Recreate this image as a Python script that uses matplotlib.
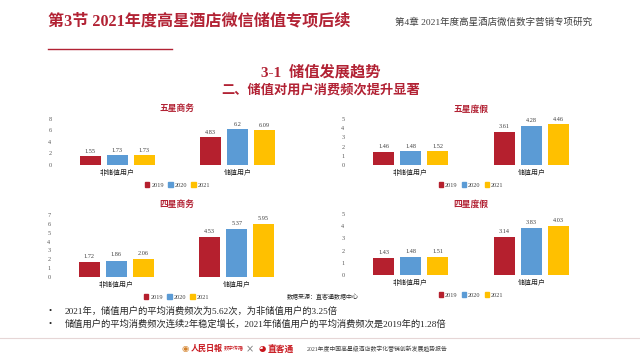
import numpy as np
import matplotlib
matplotlib.use('Agg')
import matplotlib.pyplot as plt
from matplotlib.lines import Line2D
from matplotlib.patches import Patch

plt.rcParams['font.family'] = ['Liberation Serif', 'Noto Sans CJK SC', 'DejaVu Sans']

RED = '#B5202E'
BLUE = '#5B9BD5'
YELLOW = '#FFC000'
TITLE_RED = '#B22234'

years = ['2019', '2020', '2021']
categories = ['非储值用户', '储值用户']

# 五星商务
five_biz_non = [1.55, 1.73, 1.73]
five_biz_sv = [4.83, 6.2, 6.09]
# 五星度假
five_res_non = [1.46, 1.48, 1.52]
five_res_sv = [3.61, 4.28, 4.46]
# 四星商务
four_biz_non = [1.72, 1.86, 2.06]
four_biz_sv = [4.53, 5.37, 5.95]
# 四星度假
four_res_non = [1.43, 1.48, 1.51]
four_res_sv = [3.14, 3.83, 4.03]

W, H = 640, 360
fig = plt.figure(figsize=(6.4, 3.6), dpi=100)
fig.patch.set_facecolor('white')


def fx(x):
    return x / W


def fy(y):
    return 1 - y / H


def panel(x0, x1, ytop, ybot, ymax, step, title, non, sv, legend_y):
    ax = fig.add_axes([fx(x0), fy(ybot), fx(x1 - x0), (ybot - ytop) / H])
    colors = [RED, BLUE, YELLOW]
    x = np.arange(2)
    w = 0.174
    gap = 0.223
    for i in range(3):
        vals = [non[i], sv[i]]
        bars = ax.bar(x + (i - 1) * gap, vals, width=w, color=colors[i], label=years[i], zorder=3)
        for b, v in zip(bars, vals):
            ax.text(b.get_x() + b.get_width() / 2, v + ymax * 0.05, str(v),
                    ha='center', va='bottom', fontsize=4.5, color='#404040')
    ax.set_xlim(-0.5, 1.5)
    ax.set_ylim(0, ymax)
    ax.set_yticks(np.arange(0, ymax + 0.1, step))
    ax.set_xticks(x)
    ax.set_xticklabels(categories, fontsize=5, color='#262626')
    ax.tick_params(axis='y', length=0, labelsize=4.5, labelcolor='#595959', pad=4)
    ax.tick_params(axis='x', length=0, pad=3)
    for s in ax.spines.values():
        s.set_visible(False)
    ax.axhline(0, color='#d9d9d9', lw=0.6, zorder=2)
    ax.set_facecolor('none')
    cx = (x0 + x1) / 2
    fig.text(fx(cx), fy(ytop - 10), title, ha='center', va='center',
             fontsize=6.3, color=TITLE_RED, fontweight='bold')
    handles = [Patch(color=c) for c in colors]
    fig.legend(handles, years, loc='center', bbox_to_anchor=(fx(cx), fy(legend_y)),
               ncol=3, frameon=False, fontsize=4.5, handlelength=0.7, handleheight=0.7,
               columnspacing=0.7, handletextpad=0.3, labelcolor='#404040')
    return ax


panel(57, 298, 119, 165, 8, 2, '五星商务', five_biz_non, five_biz_sv, 185)
panel(350, 592, 119, 165, 5, 1, '五星度假', five_res_non, five_res_sv, 185)
panel(56, 297, 215, 277, 7, 1, '四星商务', four_biz_non, four_biz_sv, 297)
panel(350, 592, 214, 275, 5, 1, '四星度假', four_res_non, four_res_sv, 295)

# header
fig.text(fx(48), fy(21), '第3节 2021年度高星酒店微信储值专项后续', ha='left', va='center',
         fontsize=11.6, color=TITLE_RED, fontweight='bold')
fig.text(fx(592), fy(22), '第4章 2021年度高星酒店微信数字营销专项研究', ha='right', va='center',
         fontsize=6.8, color='#404040')
fig.add_artist(Line2D([fx(48), fx(172)], [fy(49), fy(49)], color=TITLE_RED, lw=1.0))

fig.text(fx(321), fy(72), '3-1  储值发展趋势', ha='center', va='center',
         fontsize=11, color=TITLE_RED, fontweight='bold')
fig.text(fx(321), fy(90), '二、储值对用户消费频次提升显著', ha='center', va='center',
         fontsize=9.5, color=TITLE_RED, fontweight='bold')

fig.text(fx(287), fy(297), '数据来源：直客通数据中心', ha='left', va='center',
         fontsize=4.3, color='#262626')

# bullets
bullets = ['2021年，储值用户的平均消费频次为5.62次，为非储值用户的3.25倍',
           '储值用户的平均消费频次连续2年稳定增长，2021年储值用户的平均消费频次是2019年的1.28倍']
for i, t in enumerate(bullets):
    yy = 311 + i * 13
    fig.text(fx(50), fy(yy), '•', ha='center', va='center', fontsize=6.5, color='#262626')
    fig.text(fx(65), fy(yy), t, ha='left', va='center', fontsize=6.7, color='#262626')

fig.add_artist(Line2D([0, 1], [fy(338), fy(338)], color='#e6d6d6', lw=0.8))

# footer
fig.text(fx(185), fy(349), '◉', ha='center', va='center', fontsize=6, color='#d4822a',
         family=['DejaVu Sans'])
fig.text(fx(191), fy(349), '人民日報', ha='left', va='center', fontsize=5.8,
         color='#C8161D', fontstyle='italic', fontweight='bold')
fig.text(fx(224), fy(349), '数字传播', ha='left', va='center', fontsize=3.6, color='#C8161D')
fig.text(fx(250), fy(349), '×', ha='center', va='center', fontsize=7, color='#808080',
         family=['DejaVu Sans'])
fig.text(fx(262), fy(349), '◕', ha='center', va='center', fontsize=6, color='#C8161D',
         family=['DejaVu Sans'])
fig.text(fx(268), fy(349), '直客通', ha='left', va='center', fontsize=6.3,
         color='#C8161D', fontweight='bold')
fig.text(fx(307), fy(349), '2021年度中国高星级酒店数字化营销创新发展趋势报告', ha='left',
         va='center', fontsize=4.2, color='#404040')

fig.savefig('out.png', dpi=100)
